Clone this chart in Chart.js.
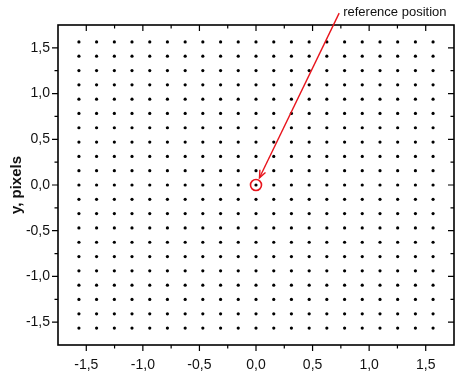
<!DOCTYPE html>
<html>
<head>
<meta charset="utf-8">
<script src="https://cdn.jsdelivr.net/npm/chart.js@4.4.1/dist/chart.umd.min.js"></script>
<style>
  html, body { margin: 0; padding: 0; background: #fff; }
</style>
</head>
<body>
<canvas id="rejilla" width="474" height="374"></canvas>
<script>
// posiciones de la rejilla (en pixeles)
const columnasX = [-1.565, -1.409, -1.252, -1.096, -0.939, -0.783, -0.626, -0.470, -0.313, -0.157, 0,
                   0.157, 0.313, 0.470, 0.626, 0.783, 0.939, 1.096, 1.252, 1.409, 1.565];
const filasY = [-1.565, -1.409, -1.252, -1.096, -0.939, -0.783, -0.626, -0.470, -0.313, -0.157, 0,
                0.157, 0.313, 0.470, 0.626, 0.783, 0.939, 1.096, 1.252, 1.409, 1.565];

const marcasMayores = [-1.5, -1.0, -0.5, 0, 0.5, 1.0, 1.5];
const marcasMenores = [-1.25, -0.75, -0.25, 0.25, 0.75, 1.25];

const puntoReferencia = { x: 0, y: 0 };
const textoReferencia = 'reference position';
const inicioFlecha = { x: 0.735, y: 1.88 };

var puntos = [];
filasY.forEach(y => {
  columnasX.forEach(x => puntos.push({ x: x, y: y }));
});

const FUENTE = '"Liberation Sans", Arial, sans-serif';

function etiqueta(v) {
  return v.toFixed(1).replace('.', ',');
}

// marco, marcas y anotacion
const marco = {
  id: 'marco',
  afterDraw(chart) {
    const ctx = chart.ctx;
    const a = chart.chartArea;
    const sx = chart.scales.x, sy = chart.scales.y;
    ctx.save();
    ctx.strokeStyle = '#000';
    ctx.lineWidth = 1.6;
    ctx.strokeRect(a.left, a.top, a.right - a.left, a.bottom - a.top);

    ctx.lineWidth = 1.2;
    function marcas(lista, largo) {
      lista.forEach(v => {
        const px = sx.getPixelForValue(v);
        const py = sy.getPixelForValue(v);
        ctx.beginPath();
        // abajo hacia afuera, arriba hacia adentro
        ctx.moveTo(px, a.bottom); ctx.lineTo(px, a.bottom + largo);
        ctx.moveTo(px, a.top); ctx.lineTo(px, a.top + largo);
        // izquierda hacia afuera, derecha hacia adentro
        ctx.moveTo(a.left, py); ctx.lineTo(a.left - largo, py);
        ctx.moveTo(a.right, py); ctx.lineTo(a.right - largo, py);
        ctx.stroke();
      });
    }
    marcas(marcasMayores, 6);
    marcas(marcasMenores, 3.5);

    // circulo rojo y flecha
    const cx = sx.getPixelForValue(puntoReferencia.x);
    const cy = sy.getPixelForValue(puntoReferencia.y);
    const fx = sx.getPixelForValue(inicioFlecha.x);
    const fy = sy.getPixelForValue(inicioFlecha.y);
    ctx.strokeStyle = '#e8141c';
    ctx.lineWidth = 1.6;
    ctx.beginPath();
    ctx.arc(cx, cy, 5.5, 0, Math.PI * 2);
    ctx.stroke();

    const ang = Math.atan2(cy - fy, cx - fx);
    const tx = cx - Math.cos(ang) * 8;
    const ty = cy - Math.sin(ang) * 8;
    ctx.lineWidth = 1.4;
    ctx.beginPath();
    ctx.moveTo(fx, fy);
    ctx.lineTo(tx, ty);
    ctx.stroke();
    ctx.beginPath();
    ctx.moveTo(tx - Math.cos(ang - 0.4) * 8, ty - Math.sin(ang - 0.4) * 8);
    ctx.lineTo(tx, ty);
    ctx.lineTo(tx - Math.cos(ang + 0.4) * 8, ty - Math.sin(ang + 0.4) * 8);
    ctx.stroke();

    ctx.fillStyle = '#111';
    ctx.font = '13px ' + FUENTE;
    ctx.textBaseline = 'alphabetic';
    ctx.textAlign = 'left';
    ctx.fillText(textoReferencia, fx + 4, 16);
    ctx.restore();
  }
};

new Chart(document.getElementById('rejilla'), {
  type: 'scatter',
  data: {
    datasets: [{
      label: 'rejilla',
      data: puntos,
      backgroundColor: '#000',
      borderColor: '#000',
      pointRadius: 1.6,
      pointBorderWidth: 0
    }]
  },
  options: {
    responsive: false,
    animation: false,
    devicePixelRatio: 1,
    layout: { padding: { left: 0, right: 20, top: 25, bottom: 0 } },
    plugins: {
      legend: { display: false },
      tooltip: { enabled: false }
    },
    scales: {
      x: {
        type: 'linear',
        min: -1.75,
        max: 1.75,
        afterBuildTicks: s => { s.ticks = marcasMayores.map(v => ({ value: v })); },
        afterFit: s => { s.height = 29; },
        grid: { display: false },
        border: { display: false },
        ticks: {
          color: '#111',
          font: { family: FUENTE, size: 14 },
          padding: 4,
          maxRotation: 0,
          callback: v => etiqueta(v)
        }
      },
      y: {
        type: 'linear',
        min: -1.75,
        max: 1.75,
        afterBuildTicks: s => { s.ticks = marcasMayores.map(v => ({ value: v })); },
        afterFit: s => { s.width = 58; },
        grid: { display: false },
        border: { display: false },
        title: {
          display: true,
          text: 'y, pixels',
          color: '#111',
          font: { family: FUENTE, size: 15, weight: 'bold' },
          padding: { top: 8, bottom: 0 }
        },
        ticks: {
          color: '#111',
          font: { family: FUENTE, size: 14 },
          padding: 0,
          callback: v => etiqueta(v)
        }
      }
    }
  },
  plugins: [marco]
});
</script>
</body>
</html>
